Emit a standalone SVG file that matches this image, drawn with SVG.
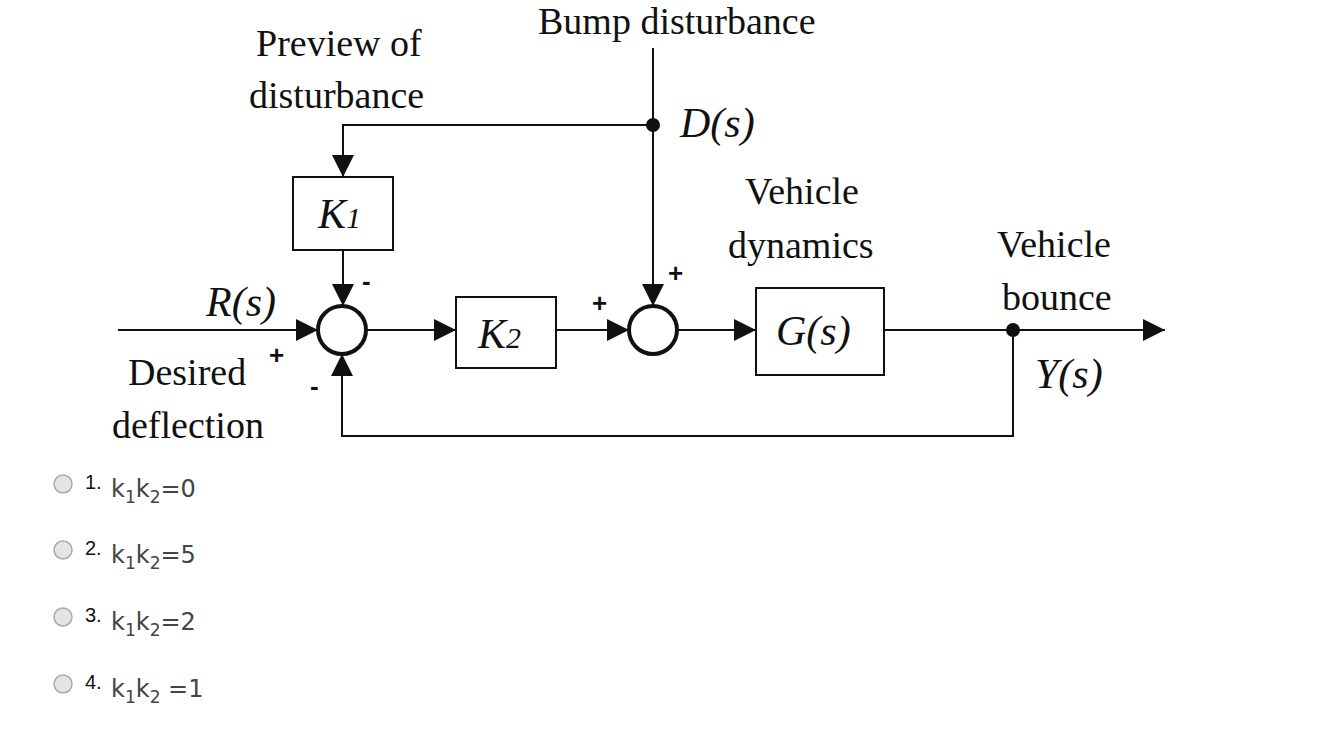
<svg xmlns="http://www.w3.org/2000/svg" width="1328" height="732" viewBox="0 0 1328 732">
<style>
.t{font-family:"Liberation Serif",serif;font-size:38px;fill:#111}
.i{font-family:"Liberation Serif",serif;font-style:italic;font-size:42px;fill:#111}
.s{font-family:"Liberation Sans",sans-serif;font-size:26px;font-weight:bold;fill:#111}
.b{fill:#fff;stroke:#111;stroke-width:2}
.c{fill:#fff;stroke:#111;stroke-width:4}
.l{fill:none;stroke:#111;stroke-width:2}
.o{font-family:"Liberation Sans",sans-serif;font-size:20px;fill:#111}
.m{font-family:"DejaVu Sans",sans-serif;font-size:24px;fill:#444}
.r{fill:#e4e4e4;stroke:#aaa;stroke-width:1.5}
</style>
<defs><marker id="a" viewBox="0 0 10 10" refX="10" refY="5" markerWidth="12" markerHeight="12" markerUnits="userSpaceOnUse" orient="auto"><path d="M0,0L10,5L0,10z" fill="#111"/></marker>
<marker id="a2" viewBox="0 0 10 10" refX="10" refY="5" markerWidth="22" markerHeight="22" markerUnits="userSpaceOnUse" orient="auto"><path d="M0,0L10,5L0,10z" fill="#111"/></marker></defs>
<g id="connectors">
<path class="l" d="M118,330H318" marker-end="url(#a2)"/>
<path class="l" d="M366,330H456" marker-end="url(#a2)"/>
<path class="l" d="M556,330H629" marker-end="url(#a2)"/>
<path class="l" d="M677,330H756" marker-end="url(#a2)"/>
<path class="l" d="M884,330H1165" marker-end="url(#a2)"/>
<path class="l" d="M653,48V306" marker-end="url(#a2)"/>
<path class="l" d="M653,125H343V177" marker-end="url(#a2)"/>
<path class="l" d="M343,250V306" marker-end="url(#a2)"/>
<path class="l" d="M1013,330V436H342V354" marker-end="url(#a2)"/>
<circle cx="653" cy="125" r="7" fill="#111"/>
<circle cx="1013" cy="330" r="7" fill="#111"/>
</g>
<g id="sum1"><circle class="c" cx="342" cy="330" r="24"/></g>
<g id="sum2"><circle class="c" cx="653" cy="330" r="24"/></g>
<g id="K1"><rect class="b" x="293" y="177" width="100" height="73"/><text class="i" x="318" y="228">K<tspan font-size="30">1</tspan></text></g>
<g id="K2"><rect class="b" x="456" y="297" width="100" height="71"/><text class="i" x="478" y="348">K<tspan font-size="30">2</tspan></text></g>
<g id="G"><rect class="b" x="756" y="288" width="128" height="87"/><text class="i" x="776" y="345">G(s)</text></g>
<g id="labels">
<text class="t" x="538" y="34">Bump disturbance</text>
<text class="t" x="256" y="56">Preview of</text>
<text class="t" x="249" y="108">disturbance</text>
<text class="i" x="680" y="137">D(s)</text>
<text class="t" x="745" y="204">Vehicle</text>
<text class="t" x="728" y="258">dynamics</text>
<text class="t" x="997" y="257">Vehicle</text>
<text class="t" x="1002" y="310">bounce</text>
<text class="i" x="1035" y="388">Y(s)</text>
<text class="i" x="206" y="316">R(s)</text>
<text class="t" x="128" y="385">Desired</text>
<text class="t" x="112" y="438">deflection</text>
<text class="s" x="269" y="364">+</text>
<text class="s" x="362" y="290">-</text>
<text class="s" x="310" y="395">-</text>
<text class="s" x="592" y="312">+</text>
<text class="s" x="668" y="282">+</text>
</g>
<g id="options">
<circle class="r" cx="63" cy="484" r="9"/><text class="o" x="85" y="489">1.</text><text class="m" x="111" y="497">k<tspan font-size="17" dy="6">1</tspan><tspan dy="-6">k</tspan><tspan font-size="17" dy="6">2</tspan><tspan dy="-6">=0</tspan></text>
<circle class="r" cx="63" cy="550" r="9"/><text class="o" x="85" y="555">2.</text><text class="m" x="111" y="563">k<tspan font-size="17" dy="6">1</tspan><tspan dy="-6">k</tspan><tspan font-size="17" dy="6">2</tspan><tspan dy="-6">=5</tspan></text>
<circle class="r" cx="63" cy="617" r="9"/><text class="o" x="85" y="622">3.</text><text class="m" x="111" y="630">k<tspan font-size="17" dy="6">1</tspan><tspan dy="-6">k</tspan><tspan font-size="17" dy="6">2</tspan><tspan dy="-6">=2</tspan></text>
<circle class="r" cx="63" cy="684" r="9"/><text class="o" x="85" y="689">4.</text><text class="m" x="111" y="697">k<tspan font-size="17" dy="6">1</tspan><tspan dy="-6">k</tspan><tspan font-size="17" dy="6">2</tspan><tspan dy="-6">  =1</tspan></text>
</g>
</svg>
